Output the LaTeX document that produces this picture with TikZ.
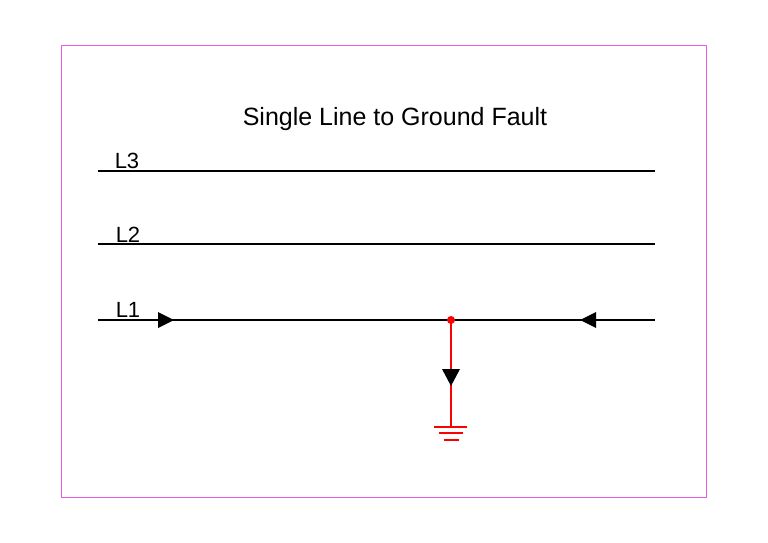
\documentclass[tikz,border=0pt]{standalone}
\usepackage{fontspec}
\setmainfont{Liberation Sans}
\begin{document}
\begin{tikzpicture}[x=1pt,y=-1pt,
  wire/.style={line width=1.4pt},
  lbl/.style={font=\fontsize{22}{26}\selectfont, anchor=base, inner sep=0},
  tri/.style={fill=black, draw=none}]
\useasboundingbox (0,0) rectangle (768,543);
\definecolor{frame}{RGB}{230,90,230}
\draw[frame, line width=1pt] (61,46) rectangle (706,497);
\node[font=\fontsize{25}{30}\selectfont, anchor=base, inner sep=0] (title) at (395,125) {Single Line to Ground Fault};
\coordinate (l3a) at (98,171); \coordinate (l3b) at (655,171);
\coordinate (l2a) at (98,244); \coordinate (l2b) at (655,244);
\coordinate (l1a) at (98,320); \coordinate (l1b) at (655,320);
\draw[wire] (l3a) -- (l3b);
\draw[wire] (l2a) -- (l2b);
\draw[line width=2.4pt] (l1a) -- (l1b);
\node[lbl] (t3) at (127,168) {L3};
\node[lbl] (t2) at (128,242) {L2};
\node[lbl] (t1) at (128,317) {L1};
\fill[tri] (158,312) -- (174,320) -- (158,328) -- cycle;
\fill[tri] (596,312) -- (580,320) -- (596,328) -- cycle;
\coordinate (f) at (451,320);
\coordinate (g) at (451,427);
\draw[red, line width=1.3pt] (f) -- (g);
\fill[red] (f) circle (4);
\fill[tri] (442,369) -- (460,369) -- (451,386) -- cycle;
\draw[red, line width=1.6pt] (434,427) -- (467,427) (439,433) -- (463,433) (444,440) -- (459,440);
\end{tikzpicture}
\end{document}
